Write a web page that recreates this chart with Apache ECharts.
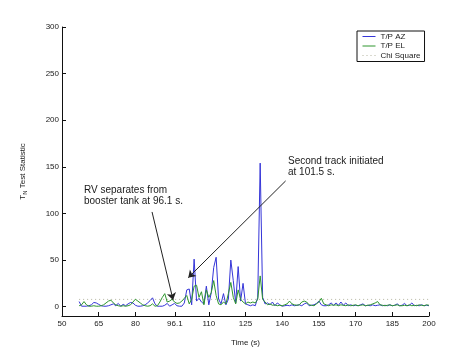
<!DOCTYPE html>
<html>
<head>
<meta charset="utf-8">
<script src="https://cdn.jsdelivr.net/npm/echarts@6/dist/echarts.min.js"></script>
<style>
html,body{margin:0;padding:0;background:#fff;}
#chart{width:474px;height:355px;}
</style>
</head>
<body>
<div id="chart"></div>
<script>
// time samples (s), one per second from 57 to 200
var times = [];
for (var t = 57; t <= 200; t++) times.push(t);

// T/P AZ test statistic
var azValues = [
  5.5,0.5,0.5,0.5,1,2,4.5,4,2.5,1,
  0.5,0.5,1,2,3,1,3.5,0.5,2.5,1,
  3,4.5,4,1.5,0.5,0.5,1,2,4,6.5,
  9.5,3,0.5,0.5,0.5,1.5,3.5,0.5,2,3.5,
  1,0.5,0.5,4,18,19,2,51,6,9,
  5,3,22,2,15,42,53,8,3,14,
  2,8,50,28,4,43,6,25,3,2,
  1,2,1,10,154,10,3,4,2,5,
  1,4,2,0.5,1,1.5,1,2,1,1.5,
  2,1,3,4,1,1.5,2,3.5,6,2,
  1,1,2,4,1.5,4,1.5,5,1.5,4,
  1,2,1,1.5,1,2,3,1,1.5,1,
  2,1,1.5,2,1,1.5,1,2,1,1.5,
  3,1,1.5,3.5,1,1.5,4,1,1.5,1,
  2,1,1.5,1
];

// T/P EL test statistic
var elValues = [
  1,2,5.5,2,0.5,0.5,1,0.5,0.5,1,
  2,4,6,7,4,2,1,0.5,1,0.5,
  1,2,5,8,6,4,2,1,0.5,1,
  3,0.5,1,5,10,14,5,6,8,5,
  3.5,4,6,9,12,3,8,22,23,10,
  16,2,18,10,15,28,12,3,2,5,
  3,14,26,10,3,18,8,5,3,5,
  4,5,4,8,33,8,5,2,3,1.5,
  2,1,1.5,1,2,3,6,3,2,1.5,
  2,5,6,5,2,1.5,1,3,5,9,
  3,2,1,2,1.5,2,1,2,1.5,1,
  2,1,1.5,2,1,1.5,2,1,1.5,2,
  3,4,5.5,2,1.5,1,1.5,2,1,1.5,
  2,1,1,1.5,1,2,1,1.5,1,2,
  1.5,1,2,1.5
];

// chi-square threshold
var chiTimes = [57, 200];
var chiValue = 7.8;

// axis ticks
var xTicks = [50, 65, 80, 96.1, 110, 125, 140, 155, 170, 185, 200];
var yTicks = [0, 50, 100, 150, 200, 250, 300];

// annotations
var note1Text = 'RV separates from\nbooster tank at 96.1 s.';
var note1Arrow = [[86.8, 101.6], [95.4, 7.2]];
var note2Text = 'Second track initiated\nat 101.5 s.';
var note2Arrow = [[141.4, 134.9], [101.6, 31.1]];

function pairs(xs, ys) {
  return xs.map(function (x, i) { return [x, ys[i]]; });
}

var FONT = 'Liberation Sans, Arial, Helvetica, sans-serif';
var TXT = '#1a1a1a';

var chart = echarts.init(document.getElementById('chart'), null, {renderer: 'canvas'});
chart.setOption({
  animation: false,
  backgroundColor: '#fff',
  textStyle: {fontFamily: FONT},
  grid: {left: 62, right: 45, top: 27, bottom: 39, containLabel: false},
  legend: {
    orient: 'vertical',
    left: 357, top: 31,
    backgroundColor: '#fff',
    borderColor: '#111', borderWidth: 1,
    padding: [1, 4, 1.5, 5],
    itemGap: 0.5,
    itemWidth: 13, itemHeight: 9,
    itemStyle: {opacity: 0},
    lineStyle: {width: 1},
    textStyle: {fontSize: 8, color: TXT, fontFamily: FONT, lineHeight: 9},
    data: ['T/P AZ', 'T/P EL', 'Chi Square']
  },
  xAxis: {
    type: 'value', min: 50, max: 200,
    name: 'Time (s)', nameLocation: 'middle', nameGap: 23,
    nameTextStyle: {fontSize: 8, color: TXT, fontFamily: FONT},
    axisLine: {show: true, onZero: false, lineStyle: {color: '#111', width: 1}},
    axisTick: {show: true, inside: true, length: 4, customValues: xTicks, lineStyle: {color: '#111'}},
    axisLabel: {fontSize: 8, color: TXT, margin: 4, customValues: xTicks,
      formatter: function (v) { return String(v); }},
    splitLine: {show: false}
  },
  yAxis: {
    type: 'value', min: -10, max: 300,
    name: 'T{s|N} Test Statistic', nameLocation: 'middle', nameGap: 34,
    nameTextStyle: {fontSize: 8, color: TXT, fontFamily: FONT,
      rich: {s: {fontSize: 6, color: TXT, fontFamily: FONT, padding: [5, 0, 0, 0]}}},
    axisLine: {show: true, onZero: false, lineStyle: {color: '#111', width: 1}},
    axisTick: {show: true, inside: true, length: 4, customValues: yTicks, lineStyle: {color: '#111'}},
    axisLabel: {fontSize: 8, color: TXT, margin: 3, customValues: yTicks},
    splitLine: {show: false}
  },
  series: [
    {
      name: 'T/P AZ', type: 'line', symbol: 'none', z: 2,
      data: pairs(times, azValues),
      lineStyle: {color: '#3535d8', width: 1},
      itemStyle: {color: '#3535d8'}
    },
    {
      name: 'T/P EL', type: 'line', symbol: 'none', z: 3,
      data: pairs(times, elValues),
      lineStyle: {color: '#2e962e', width: 1},
      itemStyle: {color: '#2e962e'}
    },
    {
      name: 'Chi Square', type: 'line', symbol: 'none', z: 1,
      data: pairs(chiTimes, chiTimes.map(function () { return chiValue; })),
      lineStyle: {color: '#b5b5a0', width: 1, type: [1, 3]},
      itemStyle: {color: '#b5b5a0'},
      markLine: {
        silent: true, animation: false, z: 10,
        symbol: ['none', 'arrow'], symbolSize: 7,
        label: {show: false},
        itemStyle: {color: '#222'},
        lineStyle: {color: '#222', width: 1, type: 'solid'},
        emphasis: {disabled: true},
        data: [
          [{coord: note1Arrow[0]}, {coord: note1Arrow[1]}],
          [{coord: note2Arrow[0]}, {coord: note2Arrow[1]}]
        ]
      }
    }
  ],
  graphic: [
    {type: 'text', left: 84, top: 184, silent: true,
      style: {text: note1Text, font: '10px ' + FONT, fill: TXT, lineHeight: 11.5}},
    {type: 'text', left: 288, top: 155, silent: true,
      style: {text: note2Text, font: '10px ' + FONT, fill: TXT, lineHeight: 11.5}}
  ]
});
</script>
</body>
</html>
